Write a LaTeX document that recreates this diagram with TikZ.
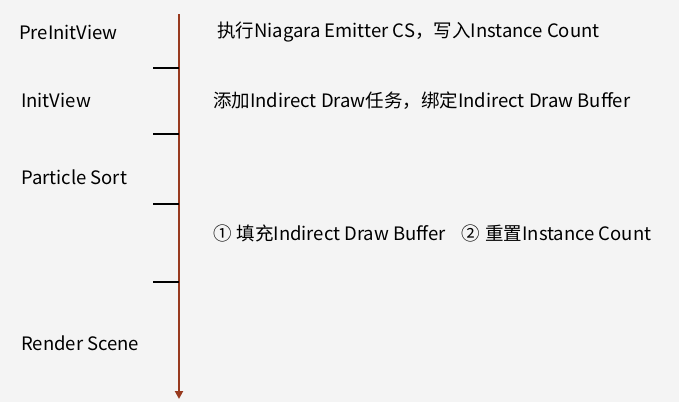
\documentclass[tikz,border=0pt]{standalone}
\usepackage{fontspec}
\setmainfont{Noto Sans CJK SC}
\usetikzlibrary{arrows.meta}
\definecolor{axisred}{HTML}{983A1F}
\definecolor{bggray}{HTML}{F4F4F4}
\begin{document}
\begin{tikzpicture}[x=1bp,y=-1bp,
  lbl/.style={anchor=west,inner sep=0pt,font=\fontsize{18.5bp}{20bp}\selectfont}]

%BACKGROUND
  \fill[bggray] (0,0) rectangle (679,402);
  \useasboundingbox (0,0) rectangle (679,402);

%AXIS
\pgfmathsetmacro{\ax}{179}
\pgfmathsetmacro{\tl}{153}
  \coordinate (top) at (\ax,14);
  \coordinate (bot) at (\ax,399);
  \draw[axisred,line width=2.6bp,-{Triangle[width=8bp,length=8bp]}](top)--(bot);

%TICKS
  \foreach \t/\y in {ta/68,tb/134,tc/204,td/282}{
    \coordinate (\t) at (\ax,\y);
    \coordinate (\t l) at (\tl,\y);
    \draw[line width=1.8bp](\t l)--(\t);
  }

%STAGES
  \node[lbl] (preinit) at (19,32) {PreInitView};
  \node[lbl] (init) at (21,100) {InitView};
  \node[lbl] (sort) at (21,177) {Particle Sort};
  \node[lbl] (render) at (21,343) {Render Scene};

%NOTES
  \node[lbl] (emit) at (217,32) {执行Niagara Emitter CS，写入Instance Count};
  \node[lbl] (draw) at (213,101) {添加Indirect Draw任务，绑定Indirect Draw Buffer};
  \node[lbl] (fill) at (213,233) {①\hspace{5bp}填充Indirect Draw Buffer\hspace{16bp}②\hspace{5bp}重置Instance Count};
\end{tikzpicture}
\end{document}
